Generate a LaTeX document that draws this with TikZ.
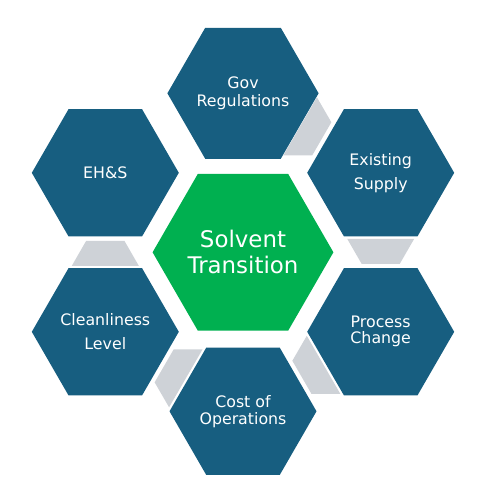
\documentclass[tikz,border=0pt]{standalone}
\usepackage{fontspec}
\setmainfont{DejaVu Sans}
\usetikzlibrary{shapes.geometric}
\definecolor{hexblue}{RGB}{23,94,128}
\definecolor{hexgreen}{RGB}{0,176,80}
\definecolor{linkgray}{RGB}{206,210,215}
\tikzset{
  factor/.style={regular polygon, regular polygon sides=6, minimum size=147pt,
    inner sep=0pt, outer sep=0pt, fill=hexblue, text=white, align=center,
    font=\fontsize{15.8}{17.3}\selectfont},
  core/.style={factor, minimum size=180.6pt, fill=hexgreen,
    font=\fontsize{22.9}{26}\selectfont},
  link/.style={fill=linkgray}
}
\begin{document}
\begin{tikzpicture}
      \useasboundingbox (-243pt,-249.7pt) rectangle (249pt,252.3pt);
      \node[core] (core) at (0,0) {Solvent\\Transition};
      \path
        (90:159pt) node[factor] (gov){Gov\\Regulations}
        (30:159pt) node[factor] (supply){Existing\\[6.7pt]Supply}
        (-30:159pt) node[factor] (process){Process\\[-1.3pt]Change}
        (-90:159pt) node[factor] (cost){Cost of\\Operations}
        (-150:159pt) node[factor] (clean){Cleanliness\\[6.7pt]Level}
        (150:159pt) node[factor] (ehs){EH\&S};
      \begin{scope}[link]
        \fill[shift={(60:137.7pt)}, rotate=-30]
          (-13.5pt,33.5pt) -- (11.5pt,19.1pt) -- (11.5pt,-19.1pt) -- (-13.5pt,-33.5pt) -- cycle;
        \fill[shift={(0:137.7pt)}, rotate=-90]
          (-13.5pt,33.5pt) -- (11.5pt,19.1pt) -- (11.5pt,-19.1pt) -- (-13.5pt,-33.5pt) -- cycle;
        \fill[shift={(-60:137.7pt)}, rotate=-150]
          (-13.5pt,33.5pt) -- (11.5pt,19.1pt) -- (11.5pt,-19.1pt) -- (-13.5pt,-33.5pt) -- cycle;
        \fill[shift={(-120:137.7pt)}, rotate=-210]
          (-13.5pt,33.5pt) -- (11.5pt,19.1pt) -- (11.5pt,-19.1pt) -- (-13.5pt,-33.5pt) -- cycle;
        \fill[shift={(-180:137.7pt)}, rotate=-270]
          (-13.5pt,33.5pt) -- (11.5pt,19.1pt) -- (11.5pt,-19.1pt) -- (-13.5pt,-33.5pt) -- cycle;
      \end{scope}
    \end{tikzpicture}
\end{document}
